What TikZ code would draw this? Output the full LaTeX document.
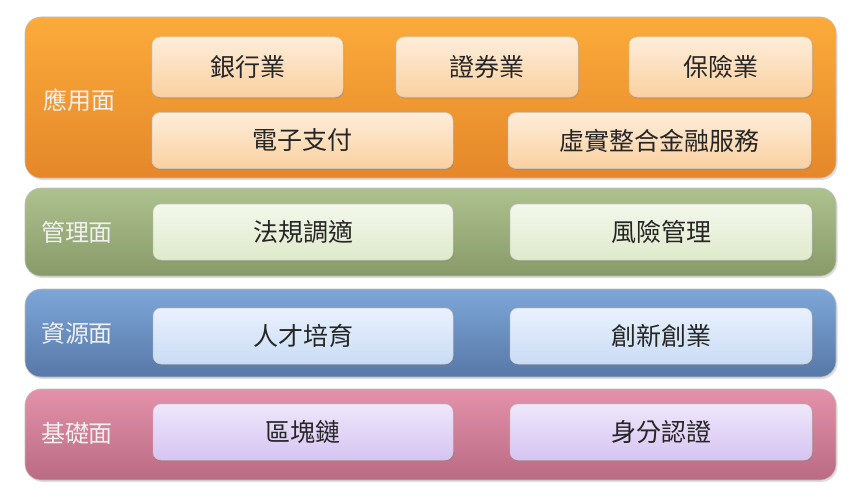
\documentclass[tikz,border=0pt]{standalone}
\usepackage{fontspec}
\setmainfont{Noto Sans CJK TC}
\usetikzlibrary{shadows}

\definecolor{orangeOben}{HTML}{FBAB3A}
\definecolor{orangeUnten}{HTML}{E5872A}
\definecolor{gruenOben}{HTML}{AEC290}
\definecolor{gruenUnten}{HTML}{879A68}
\definecolor{blauOben}{HTML}{7DA7D8}
\definecolor{blauUnten}{HTML}{5778A8}
\definecolor{rosaOben}{HTML}{E392AA}
\definecolor{rosaUnten}{HTML}{BA6A83}
\definecolor{feldOrangeO}{HTML}{FEEDDA}
\definecolor{feldOrangeU}{HTML}{FAD1A0}
\definecolor{feldGruenO}{HTML}{F4F8EC}
\definecolor{feldGruenU}{HTML}{DEEACA}
\definecolor{feldBlauO}{HTML}{E9F1FD}
\definecolor{feldBlauU}{HTML}{C9DCF5}
\definecolor{feldRosaO}{HTML}{EFE7FB}
\definecolor{feldRosaU}{HTML}{D6C4F2}
\definecolor{textDunkel}{HTML}{262626}

\begin{document}
\begin{tikzpicture}[x=1pt, y=-1pt,
    ebene/.style={rectangle, rounded corners=16pt, inner sep=0pt, minimum width=811pt,
        draw=black!25, line width=0.6pt, drop shadow={opacity=0.25, shadow xshift=1.5pt, shadow yshift=-2pt}},
    feld/.style={rectangle, rounded corners=8pt, inner sep=0pt, minimum height=56pt,
        draw=black!20, line width=0.5pt, text=textDunkel, font=\fontsize{25}{28}\selectfont,
        drop shadow={opacity=0.3, shadow xshift=1pt, shadow yshift=-1.5pt}},
    titel/.style={text=white!94!black, font=\fontsize{24}{27}\selectfont, inner sep=0pt}]
        \useasboundingbox (0,0) rectangle (857,503);

        % Anwendungsebene
        \node[ebene, minimum height=161pt, top color=orangeOben, bottom color=orangeUnten] (A) at (430.5, 97.5) {};
        \node[titel] (TA) at (79, 100) {應用面};
        \node[feld, minimum width=191pt, minimum height=60pt, top color=feldOrangeO, bottom color=feldOrangeU] (A1) at (247.5, 67) {銀行業};
        \node[feld, minimum width=182pt, minimum height=60pt, top color=feldOrangeO, bottom color=feldOrangeU] (A2) at (487, 67) {證券業};
        \node[feld, minimum width=183pt, minimum height=60pt, top color=feldOrangeO, bottom color=feldOrangeU] (A3) at (720.5, 67) {保險業};
        \node[feld, minimum width=301pt, top color=feldOrangeO, bottom color=feldOrangeU] (A4) at (302.5, 140.5) {電子支付};
        \node[feld, minimum width=303pt, top color=feldOrangeO, bottom color=feldOrangeU] (A5) at (659.5, 140.5) {虛實整合金融服務};

        % Managementebene
        \node[ebene, minimum height=88pt, top color=gruenOben, bottom color=gruenUnten] (M) at (430.5, 232) {};
        \node[titel] (TM) at (77, 232) {管理面};
        \node[feld, minimum width=300pt, top color=feldGruenO, bottom color=feldGruenU] (M1) at (303, 232) {法規調適};
        \node[feld, minimum width=302pt, top color=feldGruenO, bottom color=feldGruenU] (M2) at (661, 232) {風險管理};

        % Ressourcenebene
        \node[ebene, minimum height=88pt, top color=blauOben, bottom color=blauUnten] (R) at (430.5, 333) {};
        \node[titel] (TR) at (77, 333) {資源面};
        \node[feld, minimum width=300pt, top color=feldBlauO, bottom color=feldBlauU] (R1) at (303, 336) {人才培育};
        \node[feld, minimum width=302pt, top color=feldBlauO, bottom color=feldBlauU] (R2) at (661, 336) {創新創業};

        % Basisebene
        \node[ebene, minimum height=91pt, top color=rosaOben, bottom color=rosaUnten] (B) at (430.5, 434.5) {};
        \node[titel] (TB) at (77, 433) {基礎面};
        \node[feld, minimum width=300pt, top color=feldRosaO, bottom color=feldRosaU] (B1) at (303, 432) {區塊鏈};
        \node[feld, minimum width=302pt, top color=feldRosaO, bottom color=feldRosaU] (B2) at (661, 432) {身分認證};

    \end{tikzpicture}
\end{document}
